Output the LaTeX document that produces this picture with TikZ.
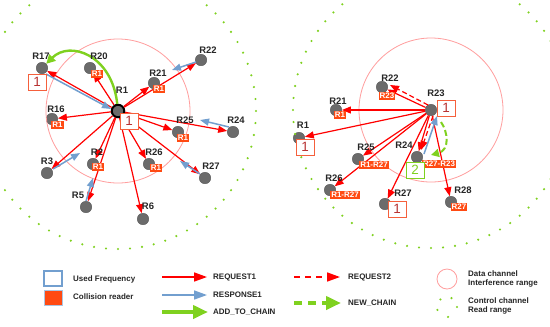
\documentclass[tikz,border=0pt]{standalone}
\usepackage{fontspec}
\setmainfont{Liberation Sans}
\usetikzlibrary{arrows.meta,calc}
\definecolor{req}{HTML}{FF0000}
\definecolor{resp}{HTML}{729FCF}
\definecolor{grn}{HTML}{7FD11F}
\definecolor{pinkc}{HTML}{FF9E9E}
\definecolor{orng}{HTML}{FF4A12}
\definecolor{boxred}{HTML}{F5603C}
\definecolor{digit}{HTML}{B83232}
\definecolor{nodegray}{HTML}{6B6B6B}
\begin{document}
\begin{tikzpicture}[x=1bp,y=-1bp,
 rdr/.style={circle,fill=nodegray,draw=nodegray!80!black,line width=0.4bp,minimum size=11.5bp,inner sep=0},
 hub/.style={circle,fill=nodegray,draw=black,line width=2bp,minimum size=12.5bp,inner sep=0},
 nm/.style={font=\fontsize{9.5}{10}\selectfont\bfseries,text=black!85,inner sep=0},
 tag/.style={fill=orng,text=white,font=\fontsize{8}{8}\selectfont\bfseries,inner xsep=1bp,inner ysep=0.8bp,text height=5.8bp,text depth=0bp},
 used/.style={draw=boxred,fill=white,line width=1bp,text=digit,font=\fontsize{13.5}{14}\selectfont,minimum width=18bp,minimum height=16bp,inner sep=0},
 usedg/.style={used,draw=grn,text=grn},
 req1/.style={draw=req,line width=1.2bp,-{Triangle[length=9bp,width=7bp]}},
 req2/.style={req1,dash pattern=on 5bp off 3bp},
 resp1/.style={draw=resp,line width=1.5bp,-{Triangle[length=9bp,width=7bp]}},
 addc/.style={draw=grn,line width=2.4bp,-{Triangle[length=9bp,width=9bp]}},
 newc/.style={draw=grn,line width=2bp,dash pattern=on 6bp off 3bp,-{Triangle[length=8bp,width=8bp]}},
 rangec/.style={draw=pinkc,line width=0.8bp},
 dotc/.style={fill=grn},
 lg/.style={font=\fontsize{8}{9}\selectfont\bfseries,text=black!85,anchor=west,inner sep=0,align=left},
 lreq1/.style={draw=req,line width=1.6bp,-{Triangle[length=13bp,width=9bp]}},
 lreq2/.style={lreq1,dash pattern=on 6bp off 5bp},
 lresp1/.style={draw=resp,line width=1.6bp,-{Triangle[length=13bp,width=9bp]}},
 laddc/.style={draw=grn,line width=4bp,-{Triangle[length=15bp,width=13bp]}},
 lnewc/.style={draw=grn,line width=4bp,dash pattern=on 8bp off 6bp,-{Triangle[length=15bp,width=13bp]}}
]
\useasboundingbox (0,0) rectangle (550,326);
\clip (0,0) rectangle (550,326);
\fill[white] (0,0) rectangle (550,326);

% ---------- left cluster nodes ----------
\node[hub] (L1) at (118,111) {};
\node[rdr] (L17) at (42,68) {};
\node[rdr] (L20) at (90,68) {};
\node[rdr] (L21) at (154,83) {};
\node[rdr] (L22) at (201,60) {};
\node[rdr] (L16) at (52,119) {};
\node[rdr] (L25) at (178,132) {};
\node[rdr] (L24) at (233,132) {};
\node[rdr] (L3) at (47,173) {};
\node[rdr] (L2) at (93,164) {};
\node[rdr] (L26) at (149,164) {};
\node[rdr] (L27) at (205,178) {};
\node[rdr] (L5) at (86,207) {};
\node[rdr] (L6) at (143,219) {};

% ---------- right cluster nodes ----------
\node[rdr] (Q23) at (431,110) {};
\node[rdr] (Q22) at (382,87) {};
\node[rdr] (Q21) at (336,110) {};
\node[rdr] (Q1) at (299,138) {};
\node[rdr] (Q25) at (358,159) {};
\node[rdr] (Q24) at (417,157) {};
\node[rdr] (Q26) at (330,190) {};
\node[rdr] (Q27) at (385,204) {};
\node[rdr] (Q28) at (451,202) {};

% ---------- ranges ----------
\draw[rangec] (L1) circle[radius=72bp];
\draw[rangec] (Q23) circle[radius=72bp];
\foreach \a in {0,5,...,355}{
  \fill[dotc] ($(L1)+(\a:138)$) circle[radius=1.2bp];
  \fill[dotc] ($(Q23)+(\a:138)$) circle[radius=1.2bp];
}

% ---------- left arrows ----------
\foreach \t in {L17,L20,L21,L22,L16,L25,L24,L3,L2,L26,L27,L5,L6}
  \draw[req1] (L1) -- (\t);
\coordinate (b17s) at (46,74);  \coordinate (b17e) at (111,109);
\coordinate (b22s) at (196,62); \coordinate (b22e) at (172,70);
\coordinate (b24s) at (229,127); \coordinate (b24e) at (200,120);
\coordinate (b27s) at (200,174); \coordinate (b27e) at (180,161);
\coordinate (b3s) at (53,169);  \coordinate (b3e) at (80,153);
\coordinate (b5s) at (86,201);  \coordinate (b5e) at (93,178);
\foreach \s in {b17,b22,b24,b27,b3,b5}
  \draw[resp1] (\s s) -- (\s e);
\draw[addc] (L1) .. controls (112,55) and (70,40) .. (L17);

% ---------- right arrows ----------
\foreach \t in {Q22,Q21,Q1,Q25,Q26,Q24,Q27,Q28}
  \draw[req1] (Q23) -- (\t);
\coordinate (d22s) at (428,105); \coordinate (d22e) at (390,85);
\coordinate (d24s) at (433,116); \coordinate (d24e) at (421,150);
\draw[req2] (d22s) -- (d22e);
\draw[req2] (d24s) -- (d24e);
\coordinate (r24s) at (424,154); \coordinate (r24e) at (437,116);
\draw[resp1] (r24s) -- (r24e);
\coordinate (ncs) at (441,122); \coordinate (nce) at (431,155);
\draw[newc] (ncs) .. controls (448,132) and (450,150) .. (nce);

% ---------- tags ----------
\node[tag] (tL20) at (97,74) {R1};
\node[tag] (tL16) at (57.5,125) {R1};
\node[tag] (tL21) at (159,89) {R1};
\node[tag] (tL25) at (183,138) {R1};
\node[tag] (tL2) at (98,167) {R1};
\node[tag] (tL26) at (156,168) {R1};
\node[tag] (tQ22) at (387,96) {R23};
\node[tag] (tQ21) at (340,115) {R1};
\node[tag] (tQ25) at (374,165) {R1-R27};
\node[tag] (tQ26) at (345,195) {R1-R27};
\node[tag] (tQ24) at (439,164) {R27-R23};
\node[tag] (tQ28) at (459,207) {R27};

\node[used] (uL17) at (37,82) {1};
\node[used] (uL1) at (129,121) {1};
\node[used] (uQ23) at (446,108) {1};
\node[used] (uQ1) at (305,147) {1};
\node[used] (uQ27) at (397,209) {1};
\node[usedg] (uQ24) at (415,170) {2};

% ---------- names ----------
\node[nm] at (41,56) {R17};
\node[nm] at (99,56) {R20};
\node[nm] at (158,73) {R21};
\node[nm] at (208,50) {R22};
\node[nm] at (122,90) {R1};
\node[nm] at (56,109) {R16};
\node[nm] at (185,120) {R25};
\node[nm] at (236,120) {R24};
\node[nm] at (47,161) {R3};
\node[nm] at (97,152) {R2};
\node[nm] at (154,152) {R26};
\node[nm] at (211,166) {R27};
\node[nm] at (78,195) {R5};
\node[nm] at (148,206) {R6};
\node[nm] at (436,93) {R23};
\node[nm] at (390,78) {R22};
\node[nm] at (338,101) {R21};
\node[nm] at (303,125) {R1};
\node[nm] at (366,147) {R25};
\node[nm] at (404,145) {R24};
\node[nm] at (334,178) {R26};
\node[nm] at (403,193) {R27};
\node[nm] at (463,190) {R28};

% ---------- legend ----------
\node[draw=resp,fill=white,line width=1.2bp,minimum width=18bp,minimum height=15bp,inner sep=0] (kUsed) at (53,278.5) {};
\node[draw=resp!60,fill=orng,line width=0.6bp,minimum width=18bp,minimum height=15bp,inner sep=0] (kColl) at (53,297.5) {};
\node[lg] at (73,279) {Used Frequency};
\node[lg] at (73,297) {Collision reader};

\coordinate (k1s) at (162,277); \coordinate (k1e) at (207,277);
\coordinate (k2s) at (162,295); \coordinate (k2e) at (207,295);
\coordinate (k3s) at (162,312); \coordinate (k3e) at (208,312);
\coordinate (k4s) at (294,277); \coordinate (k4e) at (340,277);
\coordinate (k5s) at (294,303); \coordinate (k5e) at (341,303);
\draw[lreq1] (k1s) -- (k1e);
\draw[lresp1] (k2s) -- (k2e);
\draw[laddc] (k3s) -- (k3e);
\draw[lreq2] (k4s) -- (k4e);
\draw[lnewc] (k5s) -- (k5e);
\node[lg] at (213,277) {REQUEST1};
\node[lg] at (213,295) {RESPONSE1};
\node[lg] at (213,312) {ADD\_TO\_CHAIN};
\node[lg] at (348,277) {REQUEST2};
\node[lg] at (348,303) {NEW\_CHAIN};

\node[circle,draw=pinkc,line width=0.8bp,minimum size=20bp,inner sep=0] (kData) at (447,279) {};
\coordinate (kCtrl) at (447,307);
\foreach \a in {0,63,131,197,276}
  \fill[dotc] ($(kCtrl)+(-\a:10)$) circle[radius=1.2bp];
\node[lg] at (468,279) {Data channel\\Interference range};
\node[lg] at (468,306) {Control channel\\Read range};
\end{tikzpicture}
\end{document}
